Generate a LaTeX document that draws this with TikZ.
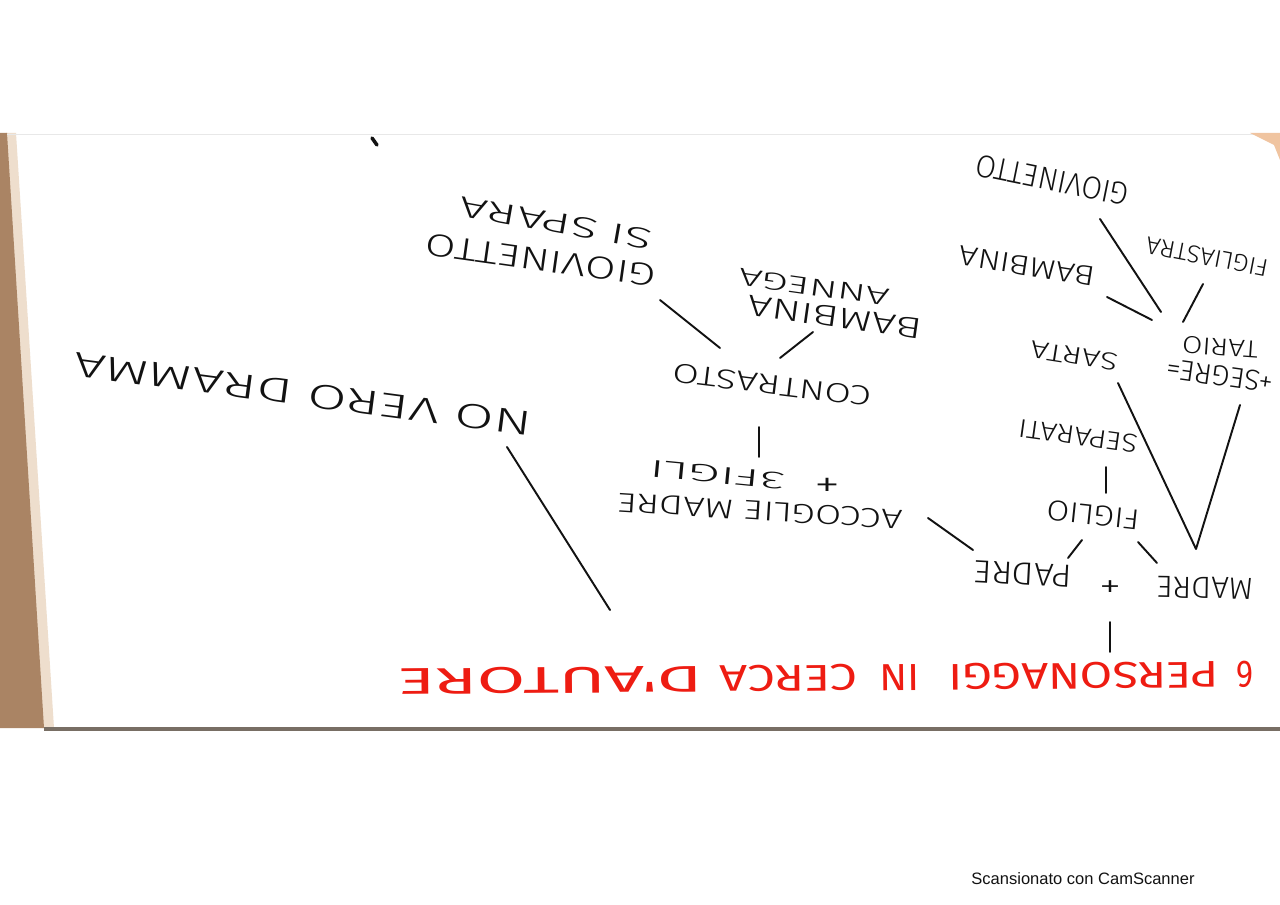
\documentclass[tikz,border=0pt]{standalone}
\usepackage{fontspec}
\usepackage{graphicx}
\newfontfamily\handfont{Fira Sans Light}
\newfontfamily\redfont{Fira Sans}
\newfontfamily\scanfont{Liberation Sans}
\newlength\px
\setlength\px{0.02cm}
\newcommand\hw[3]{\resizebox{#1\px}{#2\px}{\handfont #3}}
\newcommand\hwr[3]{\resizebox{#1\px}{#2\px}{\redfont #3}}
\definecolor{ink}{RGB}{18,18,18}
\definecolor{redink}{RGB}{238,28,18}
\definecolor{wood}{RGB}{170,132,100}
\definecolor{woodlight}{RGB}{238,222,205}
\definecolor{cardedge}{RGB}{120,110,100}
\definecolor{orangeedge}{RGB}{240,196,160}
\tikzset{
  hand/.style={inner sep=0pt, text=ink},
  redhand/.style={inner sep=0pt, text=redink},
  link/.style={draw=ink, line width=1.1pt, line cap=round}
}
\begin{document}
\begin{tikzpicture}[x=0.02cm, y=-0.02cm]
\useasboundingbox (0,0) rectangle (1280,905);
\fill[white] (0,0) rectangle (1280,905);
% card edges
\fill[woodlight] (6,133) -- (16,133) -- (54,728) -- (42,728) -- cycle;
\fill[wood] (0,133) -- (7,133) -- (44,728) -- (0,728) -- cycle;
\draw[gray!18, line width=0.4pt] (7,134) -- (1280,134);
\fill[cardedge] (44,727) rectangle (1280,730.5);
\fill[orangeedge] (1250,133) -- (1280,133) -- (1280,160) -- (1274,145) -- cycle;
% pen mark
\draw[ink, line width=2pt, line cap=round] (372,138) -- (377,145);

% nodes
\node[redhand, rotate=180.5] (title) at (826,678)
  {\hwr{17}{26}{6}\hspace{18\px}\hwr{270}{26}{PERSONAGGI}\hspace{29\px}\hwr{40}{26}{IN}\hspace{22\px}\hwr{138}{26}{CERCA}\hspace{17\px}\hwr{305}{26}{D'AUTORE}};
\node[hand, rotate=179] (madre) at (1205,588) {\hw{96}{21}{MADRE}};
\node[hand, rotate=180] (plusA) at (1110,584) {\hw{22}{17}{+}};
\node[hand, rotate=177] (padre) at (1023,574) {\hw{97}{22}{PADRE}};
\node[hand, rotate=174] (figlio) at (1093,515) {\hw{93}{20}{FIGLIO}};
\node[hand, rotate=172] (separati) at (1078,436) {\hw{120}{18}{SEPARATI}};
\node[hand, rotate=171] (sarta) at (1074,356) {\hw{88}{17}{SARTA}};
\node[hand, rotate=176] (tario) at (1220,347) {\hw{76}{17}{TARIO}};
\node[hand, rotate=172] (segre) at (1220,376) {\hw{108}{20}{+SEGRE=}};
\node[hand, rotate=169] (figliastra) at (1207,257) {\hw{124}{17}{FIGLIASTRA}};
\node[hand, rotate=171] (bambinaA) at (1027,266) {\hw{138}{19}{BAMBINA}};
\node[hand, rotate=168.5] (giovA) at (1052,180) {\hw{155}{22}{GIOVINETTO}};
\node[hand, rotate=176.5] (accoglie) at (760,511) {\hw{285}{19}{ACCOGLIE MADRE}};
\node[hand, rotate=174.5] (figli3) at (717,475) {\hw{135}{17}{3FIGLI}};
\node[hand, rotate=180] (plusB) at (827,482) {\hw{26}{19}{+}};
\node[hand, rotate=173] (contrasto) at (772,385) {\hw{200}{19}{CONTRASTO}};
\node[hand, rotate=172] (bambinaB) at (835,317) {\hw{175}{20}{BAMBINA}};
\node[hand, rotate=172] (annega) at (814,287) {\hw{152}{17}{ANNEGA}};
\node[hand, rotate=172] (giovB) at (541,260) {\hw{232}{22}{GIOVINETTO}};
\node[hand, rotate=170] (sispara) at (556,223) {\hw{195}{20}{SI SPARA}};
\node[hand, rotate=172.5] (novero) at (303,394) {\hw{462}{24}{NO VERO DRAMMA}};
\node[inner sep=0pt, text=ink, font=\scanfont\fontsize{9.4}{11}\selectfont] (scan) at (1083,879) {Scansionato con CamScanner};

% connector end points
\coordinate (c1a) at (1110,622); \coordinate (c1b) at (1110,652);
\coordinate (c2a) at (1082,540); \coordinate (c2b) at (1068,558);
\coordinate (c3a) at (1138,542); \coordinate (c3b) at (1157,563);
\coordinate (c4a) at (1106,467); \coordinate (c4b) at (1106,493);
\coordinate (vL) at (1118,383); \coordinate (vApex) at (1196,549); \coordinate (vR) at (1240,405);
\coordinate (c6a) at (1100,219); \coordinate (c6b) at (1161,312);
\coordinate (c7a) at (1107,297); \coordinate (c7b) at (1152,320);
\coordinate (c8a) at (1203,284); \coordinate (c8b) at (1183,322);
\coordinate (c9a) at (928,518); \coordinate (c9b) at (973,550);
\coordinate (c10a) at (759,427); \coordinate (c10b) at (759,457);
\coordinate (c11a) at (780,358); \coordinate (c11b) at (813,332);
\coordinate (c12a) at (660,300); \coordinate (c12b) at (720,348);
\coordinate (c13a) at (507,447); \coordinate (c13b) at (610,610);

% connectors
\draw[link] (c1a) -- (c1b);
\draw[link] (c2a) -- (c2b);
\draw[link] (c3a) -- (c3b);
\draw[link] (c4a) -- (c4b);
\draw[link, line join=round] (vL) -- (vApex) -- (vR);
\draw[link] (c6a) -- (c6b);
\draw[link] (c7a) -- (c7b);
\draw[link] (c8a) -- (c8b);
\draw[link] (c9a) -- (c9b);
\draw[link] (c10a) -- (c10b);
\draw[link] (c11a) -- (c11b);
\draw[link] (c12a) -- (c12b);
\draw[link] (c13a) -- (c13b);
\end{tikzpicture}
\end{document}
